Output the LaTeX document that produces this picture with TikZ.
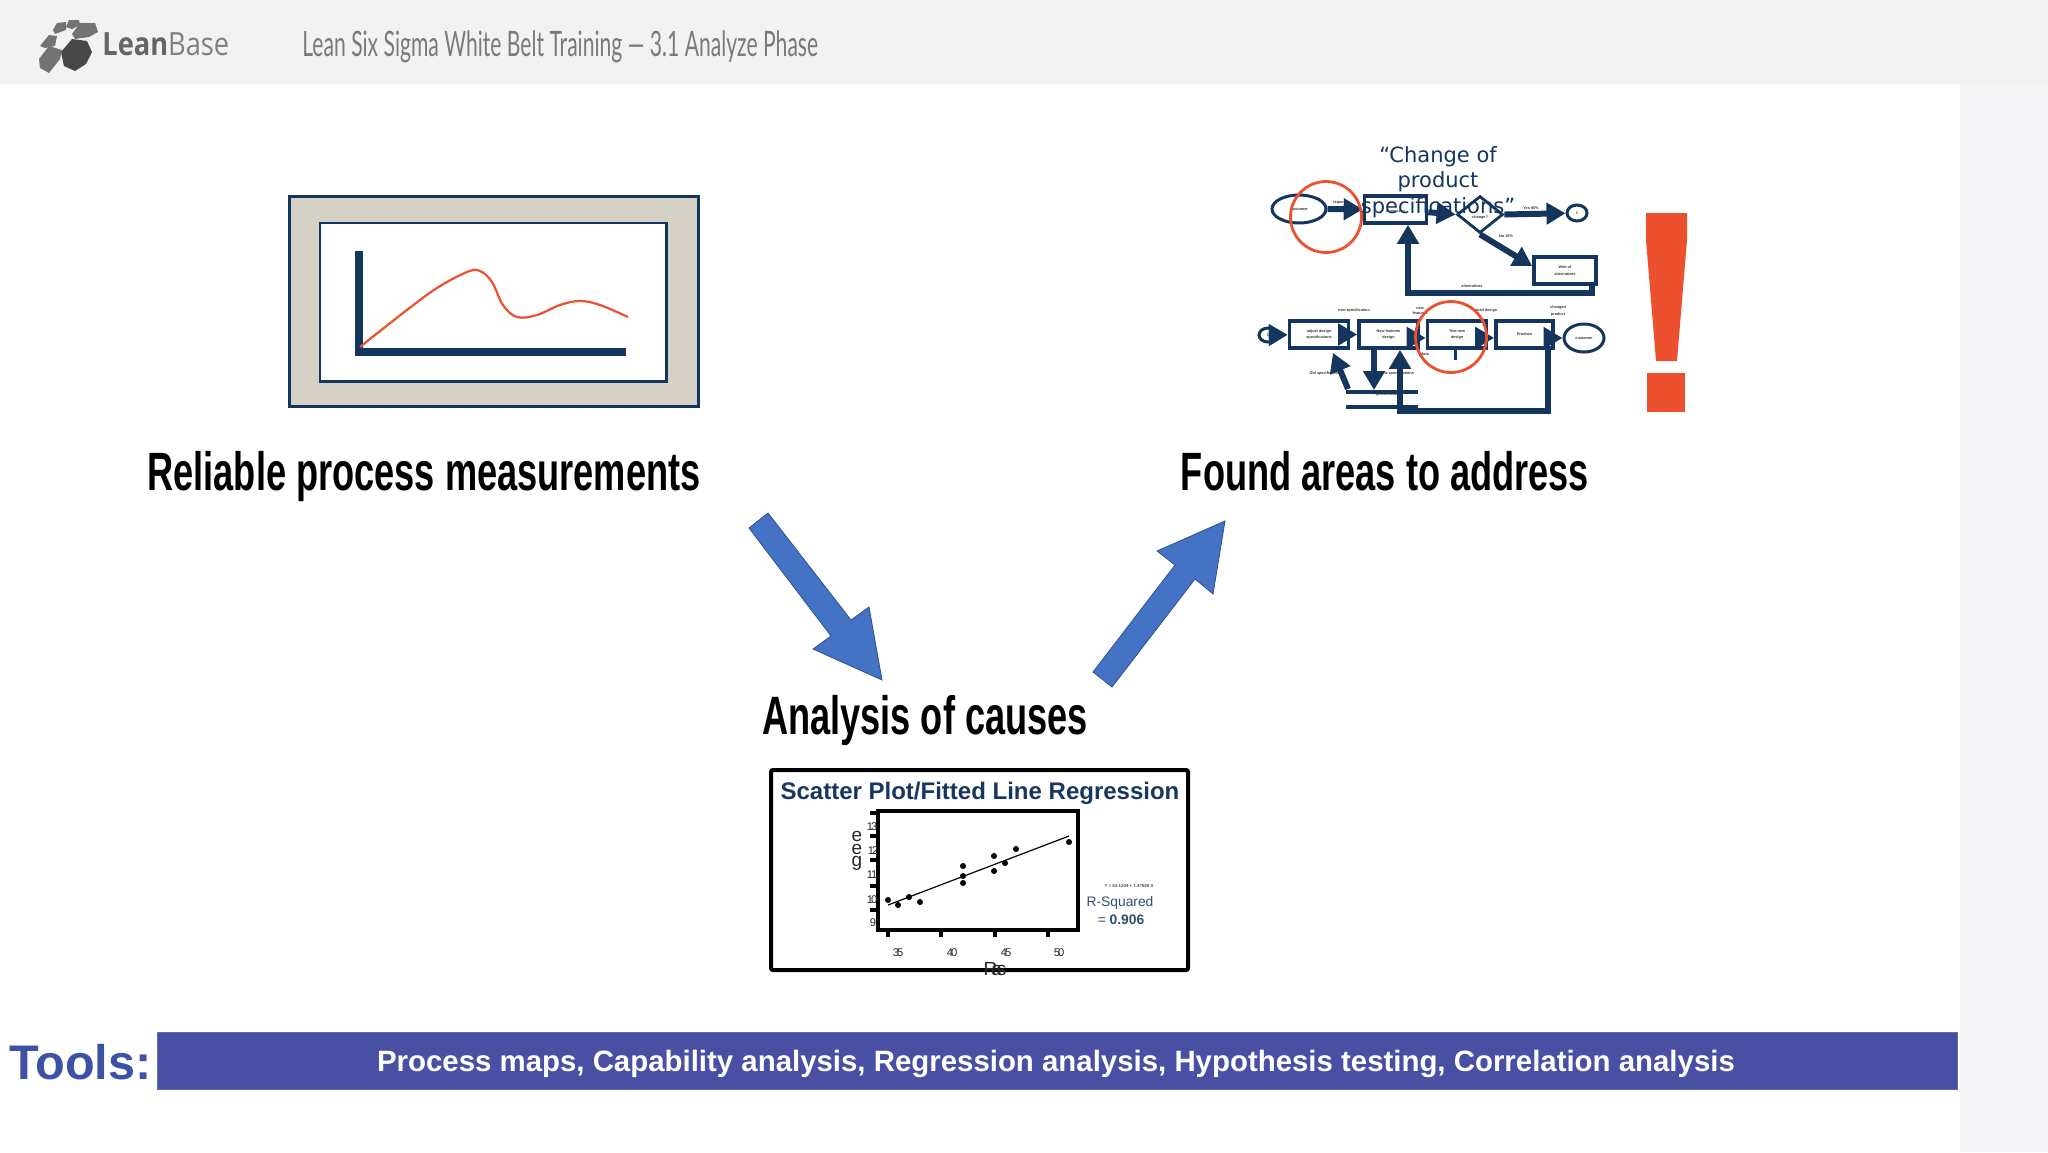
\documentclass[tikz,border=0pt]{standalone}
\usepackage{fontspec}
\usepackage{xcolor}
\usepackage{tikz}
\usetikzlibrary{shapes,arrows.meta,positioning,calc}
\setmainfont{Liberation Sans}
\newfontfamily\headfont[FakeStretch=0.67]{Liberation Sans}
\newfontfamily\bannerfont[FakeStretch=0.603]{Lato}
\newfontfamily\logofont[FakeStretch=0.85]{Open Sans}
\newfontfamily\quotefont{DejaVu Sans}
\definecolor{navyline}{RGB}{20,54,92}
\definecolor{redmark}{RGB}{236,80,46}
\definecolor{framesand}{RGB}{214,209,199}
\definecolor{blockblue}{RGB}{68,114,196}
\definecolor{blockedge}{RGB}{47,82,143}
\definecolor{toolbar}{RGB}{73,80,163}
\definecolor{toolstext}{RGB}{63,81,165}
\definecolor{bandgrey}{RGB}{242,242,242}
\definecolor{sidegrey}{RGB}{244,244,246}
\definecolor{scattertitle}{RGB}{23,55,94}
\definecolor{rsquared}{RGB}{50,78,112}
\tikzset{
  headline/.style={font=\headfont\bfseries\fontsize{27}{30}\selectfont,text=black,inner sep=0pt,anchor=base},
  flowbox/.style={draw=navyline,rectangle,line width=1.8pt,fill=white,minimum width=29.5pt,minimum height=13.5pt,inner sep=0pt,align=center,font=\bfseries\fontsize{1.9}{2.6}\selectfont,text=black!80},
  flowoval/.style={draw=navyline,ellipse,line width=1.5pt,fill=white,inner sep=0pt,font=\bfseries\fontsize{1.9}{2.6}\selectfont,text=black!80},
  tinylabel/.style={font=\bfseries\fontsize{1.9}{2.6}\selectfont,text=black!80,inner sep=0pt,align=center},
  flowarrow/.style={draw=navyline,line width=3pt,-{Triangle[length=9.5pt,width=10.5pt]}},
  flowline/.style={draw=navyline,line width=3pt},
  redring/.style={draw=redmark,circle,line width=1.4pt,minimum size=35.5pt,inner sep=0pt},
  blockarrow/.style={fill=blockblue,draw=blockedge,line width=0.4pt},
  ticklabel/.style={font=\fontsize{5.6}{6}\selectfont,text=black!85,inner sep=0pt},
  axislabel/.style={font=\fontsize{9.5}{10}\selectfont,text=black!85,inner sep=0pt}
}
\begin{document}
\begin{tikzpicture}[x=0.5pt,y=-0.5pt]
        \useasboundingbox (0,0) rectangle (2048,1152);
        % Page bands
        \fill[sidegrey] (1960,84) rectangle (2048,1152);
        \fill[bandgrey] (0,0) rectangle (2048,84);

        % Logo
        \fill[black!72] (72,39) -- (87,41) -- (92,52) -- (86,64) -- (75,71) -- (64,66) -- (61,52) -- cycle;
        \fill[black!55] (49,46) -- (62,50) -- (60,59) -- (49,73) -- (40,68) -- (39,59) -- cycle;
        \fill[black!55] (49,35) -- (57,36) -- (55,46) -- (45,48) -- (40,46) -- cycle;
        \fill[black!55] (57,23) -- (66,22) -- (66,30) -- (55,34) -- (53,30) -- cycle;
        \fill[black!55] (69,20) -- (79,20) -- (80,25) -- (72,29) -- (66,27) -- cycle;
        \fill[black!55] (80,23) -- (95,23) -- (98,32) -- (89,37) -- (75,39) -- (72,34) -- cycle;
        \node[anchor=west,inner sep=0pt,font=\logofont\fontsize{16}{18}\selectfont,text=black!60] (logotext) at (102,44) {\textbf{Lean}\textcolor{black!50}{Base}};
        \node[anchor=west,inner sep=0pt,font=\bannerfont\fontsize{17.5}{20}\selectfont,text=black!52] (banner) at (302,47) {Lean Six Sigma White Belt Training — 3.1 Analyze Phase};

        % Measurement picture
        \draw[draw=navyline,fill=framesand,line width=1.4pt] (289.5,196.5) rectangle (698.5,406.5);
        \draw[draw=navyline,fill=white,line width=1.4pt] (320,223) rectangle (666.5,381.5);
        \fill[navyline] (355,251) rectangle (363,356);
        \fill[navyline] (358,348) rectangle (626,356);
        \draw[redmark,line width=1.1pt] plot[smooth,tension=0.6] coordinates {(360,347) (403,313) (437,288) (467,272) (480,271) (492,282) (503,305) (517,317) (537,315) (560,305) (580,301) (600,305) (628,317)};

        % Headlines
        \node[headline] (reliable) at (424,490) {Reliable process measurements};
        \node[headline] (found) at (1385,490) {Found areas to address};
        \node[headline] (causes) at (925,734) {Analysis of causes};

        % Block arrows
        \filldraw[blockarrow] (749,528) -- (768,513) -- (851,620) -- (869,607) -- (882,680) -- (813,649) -- (831,636) -- cycle;
        \filldraw[blockarrow] (1093,672) -- (1112,687) -- (1195,579) -- (1213,594) -- (1225,521) -- (1157,551) -- (1175,565) -- cycle;

        % Upper process map
        \node[flowoval,minimum width=27pt,minimum height=14pt] (custA) at (1299,209) {Customer};
        \node[flowbox,minimum width=31pt] (review) at (1395.5,209.5) {\\[1.2pt]in-process};
        \node[draw=navyline,diamond,aspect=1.25,line width=1.4pt,fill=white,minimum width=23pt,minimum height=18.5pt,inner sep=0pt,tinylabel] (decide) at (1480,214.5) {\\[1.5pt]change?};
        \node[flowoval,minimum width=10pt,minimum height=8pt] (endA) at (1577,213) {1};
        \node[flowbox,minimum width=31pt] (alt) at (1565,270.5) {Web of\\[0.6pt]alternatives};
        \coordinate (retA) at (1408,293);
        \draw[flowarrow] (custA) -- (review);
        \draw[flowarrow] (review) -- (decide.west);
        \draw[flowarrow] (decide.east) -- (endA);
        \draw[flowarrow] (decide.south) -- ([yshift=2.2pt]alt.west);
        \draw[flowarrow] ([xshift=-3pt]alt.south east) |- (retA) -- ([xshift=6.25pt]review.south);
        \node[tinylabel] (lblreq) at (1340,203) {request};
        \node[tinylabel] (lblyes) at (1531,208) {Yes 85\%};
        \node[tinylabel] (lblno) at (1506,236) {No 15\%};
        \node[tinylabel] (lblalt) at (1472,286) {alternatives};

        % Lower process map
        \node[flowoval,minimum width=9pt,minimum height=7pt] (startB) at (1268,335) {1};
        \node[flowbox] (adjust) at (1319,334.5) {adjust design\\[0.6pt]specifications};
        \node[flowbox] (features) at (1388.5,334.5) {New features\\[0.6pt]design};
        \node[flowbox] (testnew) at (1457,334.5) {Test new\\[0.6pt]design};
        \node[flowbox,minimum width=28.5pt] (produce) at (1524.5,334.5) {Produce};
        \node[flowoval,minimum width=20pt,minimum height=14pt] (custB) at (1584,338) {customer};
        \coordinate (retB) at (1400,411);
        \coordinate (specA) at (1348,389);
        \coordinate (specB) at (1374,390);
        \coordinate (tickend) at (1455,360);
        \draw[flowline,line width=2pt] (1346,392) -- (1418,392);
        \draw[flowline,line width=2pt] (1346,407) -- (1418,407);
        \draw[flowarrow] (startB) -- (adjust);
        \draw[flowarrow] (adjust) -- (features);
        \draw[flowarrow] ([yshift=-1.7pt]features.east) -- ([yshift=-1.7pt]testnew.west);
        \draw[flowarrow] ([yshift=-1.7pt]testnew.east) -- ([yshift=-1.7pt]produce.west);
        \draw[flowarrow] (produce.east |- custB) -- (custB);
        \draw[flowarrow] ([xshift=-7.25pt]features.south) -- (specB);
        \draw[flowarrow] ([xshift=11.75pt]produce.south) |- (retB) -- ([xshift=5.75pt]features.south);
        \draw[flowarrow] (specA) -- ([xshift=7pt,yshift=-1.5pt]adjust.south);
        \draw[flowline,line width=1.5pt] ([xshift=-1pt]testnew.south) -- (tickend);
        \node[tinylabel] (lblspec) at (1354,311) {new specification};
        \node[tinylabel] (lblfeat) at (1420,311) {new\\[0.3pt]features};
        \node[tinylabel] (lbldesign) at (1485,311) {tested design};
        \node[tinylabel] (lblprod) at (1558,311) {changed\\[0.6pt]product};
        \node[tinylabel] (lblold) at (1326,374) {Old specifications};
        \node[tinylabel] (lblnew) at (1397,374) {new specifications};
        \node[tinylabel] (lblbase) at (1388,395) {specifications};
        \node[tinylabel] (lbldata) at (1425,354) {data};

        % Red rings and quote
        \node[redring] (ringA) at (1326,217) {};
        \node[redring] (ringB) at (1451,337) {};
        \node[font=\quotefont\fontsize{10.5}{12.6}\selectfont,text=navyline,align=center,inner sep=0pt] (quote) at (1438,182) {“Change of\\product\\specifications”};

        % Exclamation mark
        \fill[redmark] (1646,213) -- (1687,213) -- (1687,240) -- (1677,361) -- (1656,361) -- (1646,240) -- cycle;
        \fill[redmark] (1647,373) rectangle (1685,412);

        % Scatter panel
        \draw[black,line width=2pt,rounded corners=1pt] (771,770) rectangle (1188,970);
        \node[font=\bfseries\fontsize{12}{14}\selectfont,text=scattertitle,inner sep=0pt] (sctitle) at (980,793) {Scatter Plot/Fitted Line Regression};
        \draw[black,line width=1.8pt] (878,811) rectangle (1078,930);
        \foreach \yt in {813,836,860,886,910} {
            \draw[black,line width=1.6pt] (870,\yt) -- (878,\yt);
        }
        \foreach \xt in {888,941,995,1048} {
            \draw[black,line width=1.6pt] (\xt,930) -- (\xt,937);
        }
        \draw[black,line width=0.6pt] (888,905) -- (1069,836);
        \foreach \xd/\yd in {888/900,898/905,909/897,920/902,963/866,963/876,963/883,994/856,994/871,1005/863,1016/849,1069/842} {
            \fill[black] (\xd,\yd) circle (1.5pt);
        }
        \node[ticklabel] (ya) at (872,827) {1\kern-1pt 3};
        \node[ticklabel] (yb) at (873,851) {1\kern-1pt 2};
        \node[ticklabel] (yc) at (872,875) {1\kern-1pt 1};
        \node[ticklabel] (yd) at (872,900) {1\kern-1pt 0};
        \node[ticklabel] (ye) at (873,923) {9};
        \node[ticklabel] (xa) at (898,953) {3\kern-1pt 5};
        \node[ticklabel] (xb) at (952,953) {4\kern-1pt 0};
        \node[ticklabel] (xc) at (1006,953) {4\kern-1pt 5};
        \node[ticklabel] (xd) at (1059,953) {5\kern-1pt 0};
        \node[axislabel,font=\fontsize{9.5}{4.4}\selectfont,align=center] (ylab) at (857,851) {e\\e\\g};
        \node[axislabel] (xlab) at (995,969) {R\kern-3pt a\kern-2.5pt s};
        \node[font=\bfseries\fontsize{2.2}{3}\selectfont,text=black!70,inner sep=0pt] (fiteq) at (1129,886) {Y = 53.1204 + 1.47546 X};
        \node[font=\fontsize{6.9}{8}\selectfont,text=rsquared,inner sep=0pt] (rsq) at (1120,903) {R-Squared};
        \node[font=\fontsize{6.9}{8}\selectfont,text=rsquared,inner sep=0pt] (rsqval) at (1121,920) {= \textbf{0.906}};

        % Tools bar
        \node[rectangle,draw=toolstext!85,fill=toolbar,line width=0.5pt,minimum width=900pt,minimum height=28.5pt,anchor=west,inner sep=0pt] (toolbar) at (157,1060.5) {};
        \node[font=\bfseries\fontsize{14.7}{16}\selectfont,text=white,inner sep=0pt] (toolslist) at (1056,1064) {Process maps, Capability analysis, Regression analysis, Hypothesis testing, Correlation analysis};
        \node[font=\bfseries\fontsize{24.3}{26}\selectfont,text=toolstext,anchor=east,inner sep=0pt] (toolshead) at (152,1062) {Tools:};
    \end{tikzpicture}
\end{document}
